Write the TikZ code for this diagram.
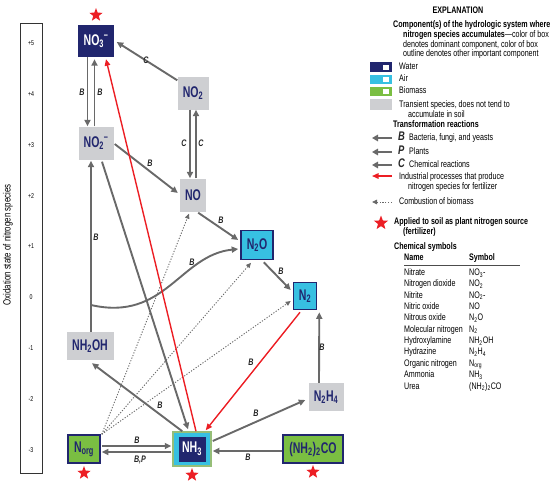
\documentclass[tikz,border=0pt]{standalone}
\usepackage{fontspec}
\setmainfont{Liberation Sans}[FakeStretch=0.75]
\newfontfamily\condfont{Liberation Sans}[FakeStretch=0.68]
\usetikzlibrary{arrows.meta,shapes.geometric,calc}
\definecolor{navyc}{RGB}{33,38,110}
\definecolor{cyanc}{RGB}{55,192,226}
\definecolor{greenc}{RGB}{122,190,66}
\definecolor{grayc}{RGB}{206,207,210}
\definecolor{arrowc}{RGB}{105,105,105}
\definecolor{redc}{RGB}{236,30,36}
\definecolor{nhbord}{RGB}{150,190,120}
\newcommand{\ionsub}[1]{\textsubscript{#1}\kern-0.3pt\raisebox{1pt}{\textsuperscript{\textendash}}}
\begin{document}
\begin{tikzpicture}[x=1pt,y=-1pt,
 spc/.style={inner sep=0pt, font=\condfont\bfseries\fontsize{15.5}{16}\selectfont, text=navyc},
 water/.style={spc, fill=navyc, text=white},
 air/.style={spc, fill=cyanc, draw=navyc, line width=1.6pt},
 bio/.style={spc, fill=greenc, draw=navyc, line width=1.6pt},
 trans/.style={spc, fill=grayc},
 arr/.style={draw=arrowc, line width=1.9pt, -{Triangle[length=6.5pt,width=6pt]}},
 larr/.style={draw=arrowc, line width=2.2pt, -{Triangle[length=6pt,width=6.5pt]}},
 redarr/.style={draw=redc, line width=1.4pt, -{Triangle[length=6.5pt,width=5.5pt]}},
 dotarr/.style={draw=arrowc, line width=0.9pt, dash pattern=on 1.2pt off 1.6pt, -{Triangle[length=5pt,width=4.5pt]}},
 lbl/.style={inner sep=0pt, font=\bfseries\itshape\fontsize{9.5}{10}\selectfont, text=black!85},
 fstar/.style={star, star points=5, star point ratio=2.4, fill=redc, minimum size=14pt, inner sep=0pt},
 axl/.style={inner sep=0pt, font=\fontsize{7}{8}\selectfont},
 lt/.style={anchor=west, inner sep=0pt, font=\fontsize{9.5}{10}\selectfont, text height=7pt, text depth=2pt},
 lb/.style={lt, font=\bfseries\fontsize{9.5}{10}\selectfont},
 lbig/.style={lt, font=\bfseries\itshape\fontsize{12.5}{12}\selectfont, text=black!85},
]
\useasboundingbox (0,0) rectangle (550,483);

% axis
\draw[line width=0.6pt, draw=black!80] (20,23) rectangle (42,473);
\foreach \t [count=\i from 0] in {+5,+4,+3,+2,+1,0,-1,-2,-3}
  \node[axl] (ax\i) at (31,43+50.875*\i) {\t};
\node[rotate=90, inner sep=0pt, font=\fontsize{10.5}{12}\selectfont] (axt) at (8,245) {Oxidation state of nitrogen species};

% species nodes
\node[water, minimum width=36pt, minimum height=32pt] (no3) at (96,41) {NO\ionsub{3}};
\node[trans, minimum width=31pt, minimum height=33pt] (no2) at (193,93) {NO\textsubscript{2}};
\node[trans, minimum width=35pt, minimum height=33pt] (no2m) at (96,143) {NO\ionsub{2}};
\node[trans, minimum width=26pt, minimum height=33pt] (no) at (193,195) {NO};
\node[air, minimum width=32pt, minimum height=29pt] (n2o) at (257,245) {N\textsubscript{2}O};
\node[air, minimum width=23pt, minimum height=27pt] (n2) at (305,296) {N\textsubscript{2}};
\node[trans, minimum width=47pt, minimum height=28pt] (nh2oh) at (90,346) {NH\textsubscript{2}OH};
\node[trans, minimum width=35pt, minimum height=28pt] (n2h4) at (326,397) {N\textsubscript{2}H\textsubscript{4}};
\node[bio, minimum width=32pt, minimum height=28pt] (norg) at (84,449) {N\textsubscript{org}};
\node[spc, text=white, fill=cyanc, draw=nhbord, line width=1.5pt, minimum width=38pt, minimum height=34pt,
  path picture={\fill[navyc] ($(path picture bounding box.north west)+(5.5,5)$) rectangle ($(path picture bounding box.south east)+(-5.5,-4.5)$);}] (nh3) at (192,449) {NH\textsubscript{3}};
\node[bio, minimum width=60pt, minimum height=28pt] (urea) at (313,449) {(NH\textsubscript{2})\textsubscript{2}CO};

% stars
\node[fstar] (s1) at (96,15) {};
\node[fstar] (s2) at (84,473) {};
\node[fstar] (s3) at (192,475) {};
\node[fstar] (s4) at (313,472) {};

% dotted combustion
\draw[dotarr] ($(norg.north east)+(1,0)$) -- ($(no.south)+(-4,2)$);
\draw[dotarr] ($(norg.north east)+(1,0)$) -- ($(n2o.south)+(-6,2.5)$);
\draw[dotarr] ($(norg.north east)+(1,0)$) -- ($(n2.west)+(-2,5)$);

% gray reactions
\draw[arr] ($(no3.south)+(-8.5,0)$) -- ($(no2m.north)+(-8.5,0)$);
\draw[arr] ($(no2m.north)+(-1.5,0)$) -- ($(no3.south)+(-1.5,2)$);
\draw[arr] ($(no2.north west)+(0,4)$) -- ($(no3.east)+(2.5,1)$);
\draw[arr] ($(no2.south)+(-3,0)$) -- ($(no.north)+(-3,0)$);
\draw[arr] ($(no.north)+(3,0)$) -- ($(no2.south)+(3,0)$);
\draw[arr] ($(no2m.east)+(1,1)$) -- ($(no.west)+(-2,-2)$);
\draw[arr] ($(no.south east)+(-8,1)$) -- ($(n2o.west)+(-2,-5)$);
\draw[arr] ($(n2o.south east)+(-10,2)$) -- ($(n2.west)+(-2,-6)$);
\draw[arr] ($(nh2oh.north)+(1,0)$) -- ($(no2m.south)+(-5,1)$);
\coordinate (cs) at (91,305);
\draw[arr] (cs) .. controls (165,322) and (180,255) .. ($(n2o.west)+(-2,4)$);
\draw[arr] ($(no2m.south)+(6,2)$) -- ($(nh3.north)+(-4,-2)$);
\draw[arr] ($(nh3.north west)+(10,0)$) -- ($(nh2oh.south)+(2,3)$);
\draw[arr] ($(nh3.east)+(1,-8)$) -- ($(n2h4.west)+(-3,3)$);
\draw[arr] ($(n2h4.north)+(-7,0)$) -- ($(n2.south east)+(2,2)$);
\draw[arr] ($(urea.west)+(0,2)$) -- ($(nh3.east)+(1,2)$);
\draw[arr] ($(norg.east)+(1,-3)$) -- ($(nh3.west)+(-1,-3)$);
\draw[arr] ($(nh3.west)+(-1,3)$) -- ($(norg.east)+(1,3)$);

% red industrial
\draw[redarr] ($(nh3.north)+(4,0)$) -- ($(no3.south)+(10,2)$);
\draw[redarr] ($(n2.south)+(-5,2)$) -- ($(nh3.north east)+(-6,-1)$);

% labels
\node[lbl] (l1) at (82,92) {B};
\node[lbl] (l2) at (100,92) {B};
\node[lbl] (l3) at (146,60) {C};
\node[lbl] (l4) at (184,143) {C};
\node[lbl] (l5) at (201,143) {C};
\node[lbl] (l6) at (150,163) {B};
\node[lbl] (l7) at (221,220) {B};
\node[lbl] (l8) at (281,271) {B};
\node[lbl] (l9) at (96,237) {B};
\node[lbl] (l10) at (192,262) {B};
\node[lbl] (l11) at (160,405) {B};
\node[lbl] (l12) at (251,362) {B};
\node[lbl] (l13) at (322,347) {B};
\node[lbl] (l14) at (256,413) {B};
\node[lbl] (l15) at (248,457) {B};
\node[lbl] (l16) at (137,440) {B};
\node[lbl] (l17) at (140,460) {B,P};

% legend
\node[inner sep=0pt, font=\bfseries\fontsize{9.5}{10}\selectfont] (expl) at (458,10) {EXPLANATION};
\node[lb] (c1) at (393,25) {Component(s) of the hydrologic system where};
\node[lt] (c2) at (403,35) {\textbf{nitrogen species accumulates}---color of box};
\node[lt] (c3) at (403,44.5) {denotes dominant component, color of box};
\node[lt] (c4) at (403,54) {outline denotes other important component};

\fill[navyc] (370,62) rectangle (392,72);
\fill[white] (383,64.5) rectangle (389,70);
\fill[cyanc] (370,74.5) rectangle (392,83.5);
\fill[white] (383,76.5) rectangle (389,81.5);
\fill[greenc] (370,86.5) rectangle (392,96);
\fill[white] (383,88.5) rectangle (389,94);
\fill[grayc] (370,99) rectangle (392,110);
\node[lt] (w) at (399,67) {Water};
\node[lt] (a) at (399,79) {Air};
\node[lt] (b) at (399,91) {Biomass};
\node[lt] (t1) at (399,105) {Transient species, does not tend to};
\node[lt] (t2) at (408,115) {accumulate in soil};
\node[lb] (tr) at (393,124.5) {Transformation reactions};

\coordinate (la1) at (392,138); \coordinate (lb1) at (372,138);
\coordinate (la2) at (392,152); \coordinate (lb2) at (372,152);
\coordinate (la3) at (392,165); \coordinate (lb3) at (372,165);
\coordinate (la4) at (392,176); \coordinate (lb4) at (372,176);
\coordinate (la5) at (392,202); \coordinate (lb5) at (372,202);
\draw[larr] (la1) -- (lb1);
\draw[larr] (la2) -- (lb2);
\draw[larr] (la3) -- (lb3);
\draw[redarr] (la4) -- (lb4);
\draw[dotarr] (la5) -- (lb5);
\node[lbig] (kb) at (398,138) {B};
\node[lbig] (kp) at (398,152) {P};
\node[lbig] (kc) at (398,165) {C};
\node[lt] (kbt) at (409,138) {Bacteria, fungi, and yeasts};
\node[lt] (kpt) at (409,152) {Plants};
\node[lt] (kct) at (409,165) {Chemical reactions};
\node[lt] (ki1) at (399,176.5) {Industrial processes that produce};
\node[lt] (ki2) at (408,187) {nitrogen species for fertilizer};
\node[lt] (kd) at (399,202) {Combustion of biomass};
\node[fstar, minimum size=15pt] (ks) at (381,223) {};
\node[lb] (ka1) at (394,222) {Applied to soil as plant nitrogen source};
\node[lb] (ka2) at (403,232) {(fertilizer)};
\node[lb] (cs1) at (394,247) {Chemical symbols};
\node[lb] (hn) at (404,258) {Name};
\node[lb] (hs) at (469,258) {Symbol};
\coordinate (r1) at (404,265); \coordinate (r2) at (520,265);
\draw[line width=0.8pt, black!70] (r1) -- (r2);
\foreach \nm/\sy [count=\i from 0] in {Nitrate/NO\textsubscript{3}-, Nitrogen dioxide/NO\textsubscript{2}, Nitrite/NO\textsubscript{2}-, Nitric oxide/NO, Nitrous oxide/N\textsubscript{2}O, Molecular nitrogen/N\textsubscript{2}, Hydroxylamine/NH\textsubscript{2}OH, Hydrazine/N\textsubscript{2}H\textsubscript{4}, Organic nitrogen/N\textsubscript{org}, Ammonia/NH\textsubscript{3}, Urea/(NH\textsubscript{2})\textsubscript{2}CO}
{
  \node[lt] (nm\i) at (404,273+11.35*\i) {\nm};
  \node[lt] (sy\i) at (469,273+11.35*\i) {\sy};
}
\end{tikzpicture}
\end{document}
